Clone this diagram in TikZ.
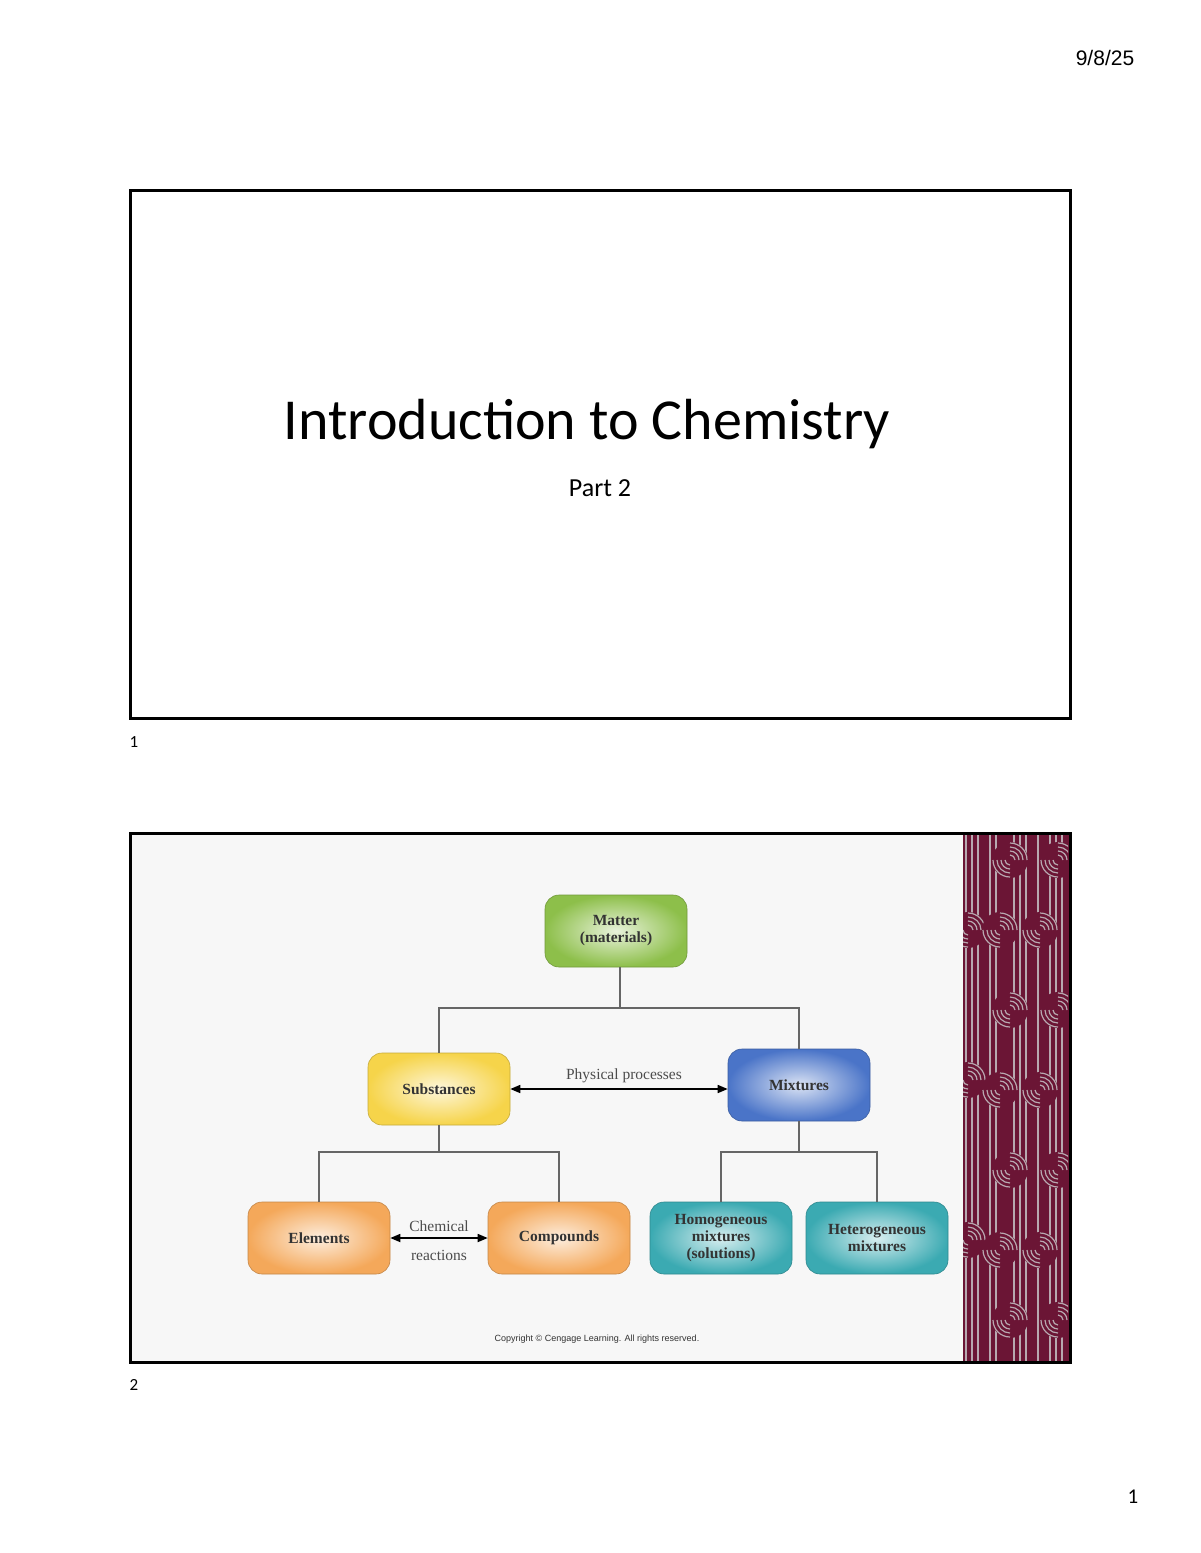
\documentclass[tikz,border=0pt]{standalone}
\usepackage{fontspec}
\setmainfont{Carlito}
\newfontfamily\tms{Liberation Serif}
\newfontfamily\arl{Liberation Sans}
\usetikzlibrary{arrows.meta}
\definecolor{maroon}{HTML}{6B1535}
\definecolor{stripe}{HTML}{B8A8B0}
\definecolor{cgreen}{HTML}{8DBF4A}
\definecolor{cyel}{HTML}{F6D44A}
\definecolor{cblue}{HTML}{4A74C8}
\definecolor{corg}{HTML}{F4A85A}
\definecolor{cteal}{HTML}{3BAAB2}
\tikzset{
 box/.style={rounded corners=14pt,minimum width=142pt,minimum height=72pt,align=center,
   font=\tms\bfseries\fontsize{15.5}{17}\selectfont,text=black!80,draw=#1!80!black,line width=0.6pt,
   inner color=#1!20!white,outer color=#1},
 link/.style={draw=black!60,line width=1.3pt},
 dbl/.style={line width=1.6pt,{Triangle[length=10pt,width=8pt]}-{Triangle[length=10pt,width=8pt]}},
 lbl/.style={font=\tms\fontsize{15.5}{17}\selectfont,text=black!70},
}
\begin{document}
\begin{tikzpicture}[x=1pt,y=-1pt]
\fill[white] (0,0) rectangle (1200,1553);
\node[font=\arl\fontsize{21}{24}\selectfont] (date) at (1105,58) {9/8/25};
% slide 1
\draw[line width=3pt] (130,190) rectangle (1070,718);
\node[font=\fontsize{58}{66}\selectfont] (title) at (587,424) {Introduction to Chemistry};
\node[font=\fontsize{26}{30}\selectfont] (sub) at (600,488) {Part 2};
\node[font=\fontsize{17}{20}\selectfont] (n1) at (134,742) {1};
% slide 2
\fill[black!3] (130,833) rectangle (963,1362);
\fill[maroon] (963,833) rectangle (1070,1362);
\foreach \x in {966,972,978,990,996,1014,1020,1026,1038,1050,1056,1062}
  \draw[stripe,line width=1.2pt] (\x,833) -- (\x,1362);
\begin{scope}
\clip (963,833) rectangle (1068,1362);
\foreach \cx/\cy in {1010/860, 1058/860, 968/930, 1000/930, 1040/930, 1010/1010, 1058/1010, 968/1080, 1000/1090, 1040/1090, 1010/1170, 1058/1170, 968/1240, 1000/1250, 1040/1250, 1010/1320, 1058/1320}{
  \fill[maroon] (\cx,\cy) circle (18);
  \foreach \r in {5,9,13,17}{
    \draw[stripe,line width=1.2pt] (\cx-\r,\cy) arc[start angle=180,end angle=90,radius=\r];
    \draw[stripe,line width=1.2pt] (\cx+\r,\cy) arc[start angle=0,end angle=-90,radius=\r];}
  }
\end{scope}
\draw[line width=3pt] (130,833) rectangle (1070,1362);
\node[box=cgreen] (matter) at (616,931) {Matter\\(materials)};
\node[box=cyel] (subs) at (439,1089) {Substances};
\node[box=cblue] (mix) at (799,1085) {Mixtures};
\node[box=corg] (elem) at (319,1238) {Elements};
\node[box=corg] (comp) at (559,1238) {Compounds};
\node[box=cteal] (homo) at (721,1238) {Homogeneous\\mixtures\\(solutions)};
\node[box=cteal] (hetero) at (877,1238) {Heterogeneous\\mixtures};
\coordinate (j1) at (620,1008);
\draw[link] (matter.south -| j1) -- (j1);
\draw[link] (subs.north) |- (j1) -| (mix.north);
\coordinate (j2) at (439,1152);
\draw[link] (subs.south) -- (j2);
\draw[link] (elem.north) |- (j2) -| (comp.north);
\coordinate (j3) at (799,1152);
\draw[link] (mix.south) -- (j3);
\draw[link] (homo.north) |- (j3) -| (hetero.north);
\draw[dbl] (subs.east) -- (mix.west |- subs.east);
\node[lbl] (pp) at (624,1076) {Physical processes};
\draw[dbl] (elem.east) -- (comp.west);
\node[lbl] (ch) at (439,1226) {Chemical};
\node[lbl] (re) at (439,1255) {reactions};
\node[font=\arl\fontsize{9}{10}\selectfont,text=black!80] (copy) at (597,1339) {Copyright \copyright{} Cengage Learning. All rights reserved.};
\node[font=\fontsize{17}{20}\selectfont] (n2) at (134,1385) {2};
\node[font=\fontsize{21}{24}\selectfont] (n3) at (1133,1497) {1};
\end{tikzpicture}
\end{document}
